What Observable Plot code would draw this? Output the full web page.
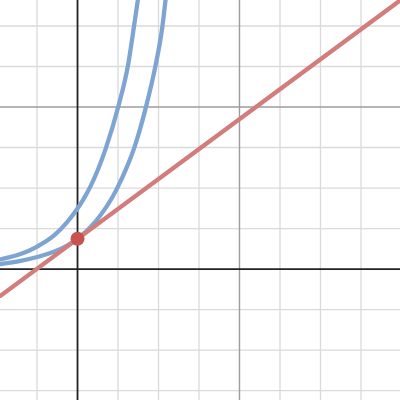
<!DOCTYPE html>
<html>
<head>
<meta charset="utf-8">
<script src="https://cdn.jsdelivr.net/npm/d3@7"></script>
<script src="https://cdn.jsdelivr.net/npm/@observablehq/plot@0.6"></script>
<style>
  html, body { margin: 0; padding: 0; background: #fff; }
  svg { display: block; }
</style>
</head>
<body>
<div id="chart"></div>
<script>
// Grid tick values (data units: minor every 0.5, major every 2)
const minorX = [-0.5, 0.5, 1, 1.5, 2.5, 3, 3.5];
const minorY = [-1.5, -1, -0.5, 0.5, 1, 1.5, 2.5, 3];
const majorX = [2];
const majorY = [2];

// Upper blue curve
const upperX = [-0.951, -0.704, -0.498, -0.293, -0.128, 0, 0.078, 0.16, 0.346, 0.502, 0.626, 0.695, 0.744];
const upperY = [0.12, 0.185, 0.278, 0.412, 0.58, 0.747, 0.87, 1.02, 1.48, 2.0, 2.53, 2.98, 3.315];

// Lower blue curve
const lowerX = [-0.951, -0.704, -0.498, -0.293, -0.128, 0, 0.222, 0.481, 0.614, 0.695, 0.84, 0.963, 1.046, 1.086];
const lowerY = [0.062, 0.1, 0.148, 0.212, 0.29, 0.373, 0.585, 0.98, 1.27, 1.48, 1.98, 2.51, 2.98, 3.315];

// Red straight line (two ends)
const redX = [-0.951, 3.988];
const redY = [-0.33, 3.32];

// Red point
const pointX = [0];
const pointY = [0.373];

const upper = upperX.map((x, i) => ({x, y: upperY[i]}));
const lower = lowerX.map((x, i) => ({x, y: lowerY[i]}));
const red = redX.map((x, i) => ({x, y: redY[i]}));
const pts = pointX.map((x, i) => ({x, y: pointY[i]}));

const chart = Plot.plot({
  width: 400,
  height: 400,
  margin: 0,
  x: {domain: [-0.951, 3.988], axis: null},
  y: {domain: [-1.623, 3.315], axis: null},
  marks: [
    Plot.ruleX(minorX, {stroke: "#dadada", strokeWidth: 1.3}),
    Plot.ruleY(minorY, {stroke: "#dadada", strokeWidth: 1.3}),
    Plot.ruleX(majorX, {stroke: "#9c9c9c", strokeWidth: 1.4}),
    Plot.ruleY(majorY, {stroke: "#9c9c9c", strokeWidth: 1.4}),
    Plot.ruleX([0], {stroke: "#222", strokeWidth: 1.8}),
    Plot.ruleY([0], {stroke: "#222", strokeWidth: 1.8}),
    Plot.line(upper, {x: "x", y: "y", stroke: "#7ea4d2", strokeWidth: 4.3, curve: "monotone-x", clip: true}),
    Plot.line(lower, {x: "x", y: "y", stroke: "#7ea4d2", strokeWidth: 4.3, curve: "monotone-x", clip: true}),
    Plot.line(red, {x: "x", y: "y", stroke: "#d27d7b", strokeWidth: 4.3, clip: true}),
    Plot.dot(pts, {x: "x", y: "y", r: 7, fill: "#c8524f", stroke: "none"})
  ]
});
document.getElementById("chart").appendChild(chart);
</script>
</body>
</html>
